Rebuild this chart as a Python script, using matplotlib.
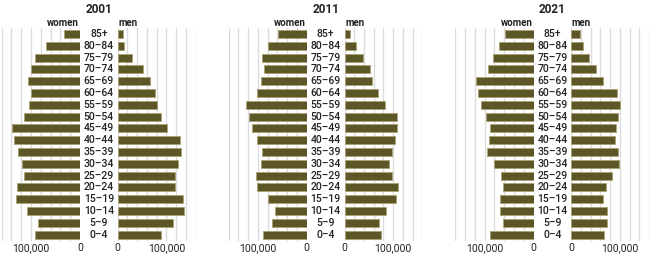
import numpy as np
import matplotlib
matplotlib.use("Agg")
import matplotlib.pyplot as plt
from matplotlib.transforms import blended_transform_factory

plt.rcParams["font.family"] = ["Roboto", "DejaVu Sans"]

ages = ["85+", "80–84", "75–79", "70–74", "65–69", "60–64", "55–59", "50–54",
        "45–49", "40–44", "35–39", "30–34", "25–29", "20–24", "15–19",
        "10–14", "5–9", "0–4"]
years = ["2001", "2011", "2021"]

women_2001 = [33000, 69500, 91500, 100000, 106000, 101000, 105000, 114000,
              138500, 134500, 127500, 119000, 114000, 129500, 131000,
              109000, 85000, 91000]
men_2001 = [10000, 13000, 29000, 52000, 66000, 76500, 80000, 89000,
            102000, 128000, 130000, 123500, 117000, 117000, 134000,
            136500, 113000, 90000]

women_2011 = [58500, 79000, 91000, 87000, 94000, 101000, 123500, 118000,
              111000, 102000, 91000, 94000, 104000, 101000, 78500,
              65500, 71000, 90000]
men_2011 = [11500, 24500, 38000, 52000, 57000, 69000, 82500, 108000,
            108500, 104000, 97000, 91500, 97500, 110000, 106000,
            84500, 70000, 76000]

women_2021 = [59000, 71000, 82500, 93000, 117000, 113000, 107000, 98000,
              89000, 92000, 95000, 80000, 67500, 62000, 69000,
              69000, 62000, 89500]
men_2021 = [18500, 25000, 35500, 50000, 65500, 93500, 99500, 97000,
            91500, 89500, 96000, 99000, 84000, 72000, 66000,
            73000, 74000, 67000]

women = [women_2001, women_2011, women_2021]
men = [men_2001, men_2011, men_2021]

W, H = 650, 262
fig = plt.figure(figsize=(W / 100, H / 100), dpi=100)

bar_color = "#5d5626"
edge_color = "#aaa274"
grid_color = "#dcdcdc"
text_color = "#222222"

top_px, bot_px = 28, 240.5
ypos = np.arange(len(ages))
ticks = np.arange(0, 160001, 20000)
ticklabels = ["100,000" if t == 100000 else ("0" if t == 0 else "") for t in ticks]


def make_axis(x0, x1, values, invert):
    ax = fig.add_axes([x0 / W, (H - bot_px) / H, (x1 - x0) / W, (bot_px - top_px) / H])
    ax.barh(ypos, values, height=0.68, color=bar_color, edgecolor=edge_color,
            linewidth=0.6, zorder=3)
    ax.set_ylim(len(ages) - 0.5, -0.5)
    if invert:
        ax.set_xlim(160000, 0)
    else:
        ax.set_xlim(0, 160000)
    ax.set_xticks(ticks)
    ax.set_xticklabels(ticklabels)
    ax.tick_params(axis="x", length=0, pad=2, labelsize=7.5, labelcolor=text_color)
    ax.set_yticks([])
    ax.grid(axis="x", color=grid_color, linewidth=1, zorder=0)
    ax.set_axisbelow(True)
    for s in ax.spines.values():
        s.set_visible(False)
    return ax


for i, year in enumerate(years):
    off = i * 226.8
    wl, wr = 1.7 + off, 80 + off
    ml, mr = 117.7 + off, 195.5 + off
    axw = make_axis(wl, wr, women[i], True)
    make_axis(ml, mr, men[i], False)

    cx = (wr + ml) / 2
    fig.text(cx / W, 1 - 9.5 / H, year, ha="center", va="center",
             fontsize=8.5, fontweight="bold", color=text_color)
    fig.text((wr - 1) / W, 1 - 22.5 / H, "women", ha="right", va="center",
             fontsize=7, fontweight="bold", color=text_color)
    fig.text((ml + 0.5) / W, 1 - 22.5 / H, "men", ha="left", va="center",
             fontsize=7, fontweight="bold", color=text_color)

    trans = blended_transform_factory(fig.transFigure, axw.transData)
    for j, a in enumerate(ages):
        axw.text(cx / W, j, a, transform=trans, ha="center", va="center",
                 fontsize=7.5, fontweight="medium", color=text_color)

fig.savefig("out.png", dpi=100)
